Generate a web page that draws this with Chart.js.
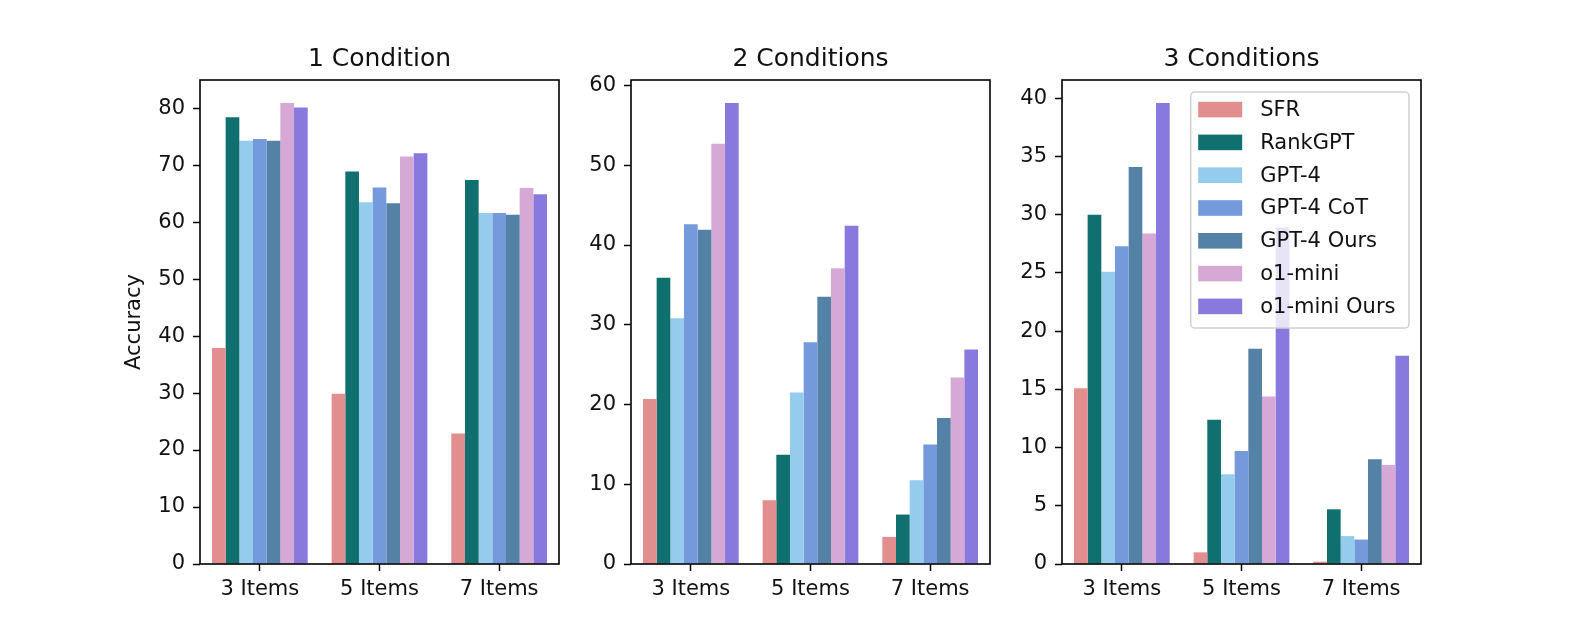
<!DOCTYPE html>
<html>
<head>
<meta charset="utf-8">
<script src="https://cdn.jsdelivr.net/npm/chart.js@4.4.1/dist/chart.umd.min.js"></script>
<style>
    body { margin: 0; background: #ffffff; }
    #page { position: relative; width: 1581px; height: 638px; overflow: hidden; }
    canvas { position: absolute; top: 0; }
</style>
</head>
<body>
<div id="page">
    <canvas id="cond1" width="449" height="638" style="left:122px"></canvas>
    <canvas id="cond2" width="449" height="638" style="left:553px"></canvas>
    <canvas id="cond3" width="449" height="638" style="left:984px"></canvas>
</div>
<script>
//---------------------------DONNEES---------------------------------------------------------

const items = ['3 Items', '5 Items', '7 Items']
const modeles = ['SFR', 'RankGPT', 'GPT-4', 'GPT-4 CoT', 'GPT-4 Ours', 'o1-mini', 'o1-mini Ours']
const couleurs = ['#e28e8e', '#107070', '#95cbec', '#759adc', '#5481a6', '#d5a8d5', '#8779dd']

// une ligne par modèle, une valeur par nombre d'items
const valeurs1 = [
    [37.9, 29.9, 22.9],
    [78.4, 68.9, 67.4],
    [74.3, 63.5, 61.6],
    [74.6, 66.1, 61.6],
    [74.3, 63.3, 61.3],
    [80.9, 71.5, 66.0],
    [80.1, 72.1, 64.9]
]
const valeurs2 = [
    [20.7, 8.0, 3.4],
    [35.9, 13.7, 6.2],
    [30.8, 21.5, 10.5],
    [42.6, 27.8, 15.0],
    [41.9, 33.5, 18.3],
    [52.7, 37.1, 23.4],
    [57.8, 42.4, 26.9]
]
const valeurs3 = [
    [15.1, 1.0, 0.2],
    [30.0, 12.4, 4.7],
    [25.1, 7.7, 2.4],
    [27.3, 9.7, 2.1],
    [34.1, 18.5, 9.0],
    [28.4, 14.4, 8.5],
    [39.6, 28.9, 17.9]
]

const titres = ['1 Condition', '2 Conditions', '3 Conditions']
const pasTicks = [10, 10, 5]

//------------------------------------------------------------------------------------------

const police = 'DejaVu Sans'
const noir = '#111111'

// cadre noir autour de la zone du graphique (comme les "spines" de matplotlib)
const cadre = {
    id: 'cadre',
    afterDraw(chart) {
        const a = chart.chartArea
        const c = chart.ctx
        c.save()
        c.strokeStyle = '#000000'
        c.lineWidth = 1.6
        c.strokeRect(a.left, a.top, a.right - a.left, a.bottom - a.top)
        c.restore()
    }
}

// légende dans la zone du graphique, en haut à droite, fond blanc semi transparent
const legendeBoite = {
    id: 'legendeBoite',
    afterDatasetsDraw(chart, args, opts) {
        if (!opts.afficher) return
        const c = chart.ctx
        const a = chart.chartArea
        const taille = 21
        c.save()
        c.font = taille + 'px "' + police + '"'
        let largeurTexte = 0
        chart.data.datasets.forEach(ds => {
            largeurTexte = Math.max(largeurTexte, c.measureText(ds.label).width)
        })
        const largeur = 69.5 + largeurTexte + 13.5
        const pas = 32.8
        const hauteur = 236
        const x = a.right - 12 - largeur
        const y = a.top + 12

        c.beginPath()
        c.roundRect(x, y, largeur, hauteur, 4)
        c.fillStyle = 'rgba(255,255,255,0.8)'
        c.fill()
        c.strokeStyle = '#d0d0d0'
        c.lineWidth = 1.5
        c.stroke()

        c.textBaseline = 'middle'
        c.textAlign = 'left'
        chart.data.datasets.forEach((ds, i) => {
            const cy = y + 17.6 + i * pas
            c.fillStyle = ds.backgroundColor
            c.fillRect(x + 7.5, cy - 7.8, 44, 15.6)
            c.fillStyle = noir
            c.fillText(ds.label, x + 69.5, cy + 1)
        })
        c.restore()
    }
}

function dessinerPanneau(id, valeurs, titre, pas, avecLabelY, avecLegende) {

    const maxi = Math.max(...valeurs.flat()) * 1.05 // marge de 5% comme matplotlib

    new Chart(document.getElementById(id), {
        type: 'bar',
        plugins: [cadre, legendeBoite],
        data: {
            labels: items,
            datasets: modeles.map((nom, i) => ({
                label: nom,
                data: valeurs[i],
                backgroundColor: couleurs[i],
                borderWidth: 0,
                categoryPercentage: 0.8,
                barPercentage: 1.0
            }))
        },
        options: {
            responsive: false,
            animation: false,
            layout: {
                padding: { left: 0, right: 12, top: 44, bottom: 29 }
            },
            scales: {
                x: {
                    afterFit: (axe) => { axe.height = 45 },
                    grid: {
                        offset: false,
                        drawOnChartArea: false,
                        drawTicks: true,
                        tickLength: 7,
                        tickWidth: 1.5,
                        tickColor: '#000000'
                    },
                    border: { display: false },
                    ticks: {
                        color: noir,
                        padding: 6,
                        maxRotation: 0,
                        font: { family: police, size: 21 }
                    }
                },
                y: {
                    min: 0,
                    max: maxi,
                    afterFit: (axe) => { axe.width = 78 },
                    grid: {
                        drawOnChartArea: false,
                        drawTicks: true,
                        tickLength: 7,
                        tickWidth: 1.5,
                        tickColor: '#000000'
                    },
                    border: { display: false },
                    ticks: {
                        stepSize: pas,
                        includeBounds: false,
                        color: noir,
                        padding: 8,
                        font: { family: police, size: 21 }
                    },
                    title: {
                        display: avecLabelY,
                        text: 'Accuracy',
                        color: noir,
                        padding: { top: 0, bottom: 0 },
                        font: { family: police, size: 21 }
                    }
                }
            },
            plugins: {
                legend: { display: false },
                tooltip: { enabled: false },
                title: {
                    display: true,
                    fullSize: false, // centré au dessus de la zone du graphique, pas du canvas
                    text: titre,
                    color: noir,
                    padding: { top: 0, bottom: 6 },
                    font: { family: police, size: 25, weight: 'normal', lineHeight: 1.2 }
                },
                legendeBoite: { afficher: avecLegende }
            }
        }
    })
}

dessinerPanneau('cond1', valeurs1, titres[0], pasTicks[0], true, false)
dessinerPanneau('cond2', valeurs2, titres[1], pasTicks[1], false, false)
dessinerPanneau('cond3', valeurs3, titres[2], pasTicks[2], false, true)
</script>
</body>
</html>
